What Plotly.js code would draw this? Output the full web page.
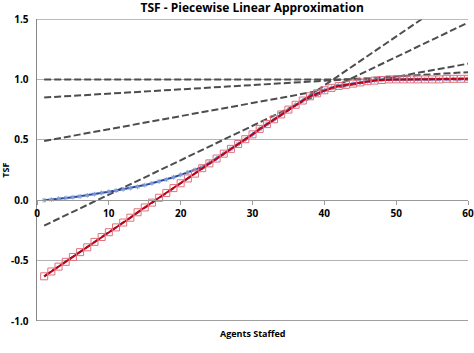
<!DOCTYPE html>
<html>
<head>
<meta charset="utf-8">
<script src="https://cdn.plot.ly/plotly-3.0.1.min.js"></script>
<style>html,body{margin:0;padding:0;background:#fff;}#chart{width:474px;height:353px;}</style>
</head>
<body>
<div id="chart"></div>
<script>
// Agents staffed (x)
var agents = [];
for (var i = 1; i <= 60; i++) agents.push(i);

// Piecewise linear approximation (red, squares)
var approxTSF = [-0.63,-0.59,-0.55,-0.51,-0.47,-0.43,-0.39,-0.345,-0.305,-0.265,
  -0.225,-0.185,-0.145,-0.10,-0.06,-0.02,0.02,0.06,0.10,0.14,
  0.18,0.22,0.265,0.305,0.345,0.385,0.425,0.465,0.505,0.545,
  0.59,0.63,0.67,0.71,0.75,0.79,0.825,0.86,0.885,0.91,
  0.93,0.945,0.955,0.965,0.975,0.985,0.99,0.995,1.0,1.0,
  1.0,1.0,1.0,1.0,1.0,1.0,1.005,1.005,1.005,1.005];

// Actual TSF curve (blue, stars)
var actualTSF = [0.0,0.005,0.012,0.018,0.025,0.032,0.04,0.05,0.06,0.07,
  0.08,0.09,0.10,0.11,0.125,0.14,0.155,0.17,0.19,0.21,
  0.23,0.25,0.275,0.31,0.345,0.385,0.425,0.465,0.505,0.545,
  0.59,0.63,0.67,0.71,0.75,0.79,0.825,0.86,0.885,0.91,
  0.93,0.945,0.955,0.965,0.975,0.985,0.99,0.995,1.0,1.0,
  1.0,1.0,1.0,1.0,1.0,1.0,1.005,1.005,1.005,1.005];

// Tangent (dashed) lines: endpoints
var tangentX = [1, 60];
var tangentH = [1.0, 1.0];
var tangentA = [0.85, 1.06];
var tangentB = [0.49, 1.13];
var tangentC = [-0.21, 1.47];
var tangentD = [-0.63, 1.76];

var yTickVals = [-1.0, -0.5, 0.0, 0.5, 1.0, 1.5];
var xTickVals = [0, 10, 20, 30, 40, 50, 60];

var dashLine = {color: '#4d4d4d', width: 2, dash: '7px,3px'};
function tangent(y) {
  return {x: tangentX, y: y, mode: 'lines', line: dashLine, hoverinfo: 'skip', showlegend: false};
}

var traces = [
  tangent(tangentH), tangent(tangentA), tangent(tangentB), tangent(tangentC), tangent(tangentD),
  {x: agents, y: actualTSF, mode: 'lines+markers',
   line: {color: '#2a4596', width: 2},
   marker: {symbol: 'asterisk-open', size: 4, color: '#7f9ddc', line: {color: '#7f9ddc', width: 1}},
   showlegend: false},
  {x: agents, y: approxTSF, mode: 'lines+markers',
   line: {color: '#c00018', width: 2},
   marker: {symbol: 'square-open', size: 7, color: '#e0707c', line: {color: '#e0707c', width: 1}},
   showlegend: false}
];

var fam = 'Open Sans, Liberation Sans, sans-serif';

var layout = {
  width: 474, height: 353,
  margin: {l: 37, r: 6, t: 19, b: 32, pad: 0},
  paper_bgcolor: '#fff', plot_bgcolor: '#fff',
  showlegend: false,
  title: {text: '<b>TSF - Piecewise Linear Approximation</b>',
          font: {family: fam, size: 12, color: '#000'},
          x: 0.532, xanchor: 'center', y: 0.977, yanchor: 'middle', xref: 'container', yref: 'container'},
  xaxis: {range: [0, 60], tickvals: xTickVals, ticktext: xTickVals.map(String),
          showgrid: false, zeroline: false,
          showline: true, linecolor: '#999', linewidth: 1,
          anchor: 'free', position: 0.4,
          ticks: 'outside', ticklen: 4, tickcolor: '#999',
          tickfont: {family: fam, size: 10, color: '#000', weight: 'bold'}},
  yaxis: {range: [-1, 1.5], tickvals: yTickVals, ticktext: ['-1.0','-0.5','0.0','0.5','1.0','1.5'],
          showgrid: true, gridcolor: '#b3b3b3', gridwidth: 1, zeroline: false,
          showline: true, linecolor: '#888', linewidth: 1.5,
          ticks: 'outside', ticklen: 5, tickcolor: 'rgba(0,0,0,0)',
          tickfont: {family: fam, size: 10, color: '#000', weight: 'bold'}},
  shapes: [
    {type: 'line', xref: 'paper', yref: 'y', x0: 0, x1: 1, y0: 1.5, y1: 1.5, line: {color: '#a6a6a6', width: 1.5}},
    {type: 'line', xref: 'paper', yref: 'y', x0: 0, x1: 1, y0: -1, y1: -1, line: {color: '#808080', width: 1.5}}
  ],
  annotations: [
    {text: '<b>Agents Staffed</b>', xref: 'paper', yref: 'paper', x: 0.5, y: -0.04, xanchor: 'center', yanchor: 'middle',
     showarrow: false, font: {family: fam, size: 9, color: '#000'}},
    {text: '<b>TSF</b>', xref: 'paper', yref: 'paper', x: -0.075, y: 0.5, xanchor: 'center', yanchor: 'middle',
     textangle: -90, showarrow: false, font: {family: fam, size: 9, color: '#000'}}
  ]
};

Plotly.newPlot('chart', traces, layout, {displayModeBar: false, staticPlot: true});
</script>
</body>
</html>
